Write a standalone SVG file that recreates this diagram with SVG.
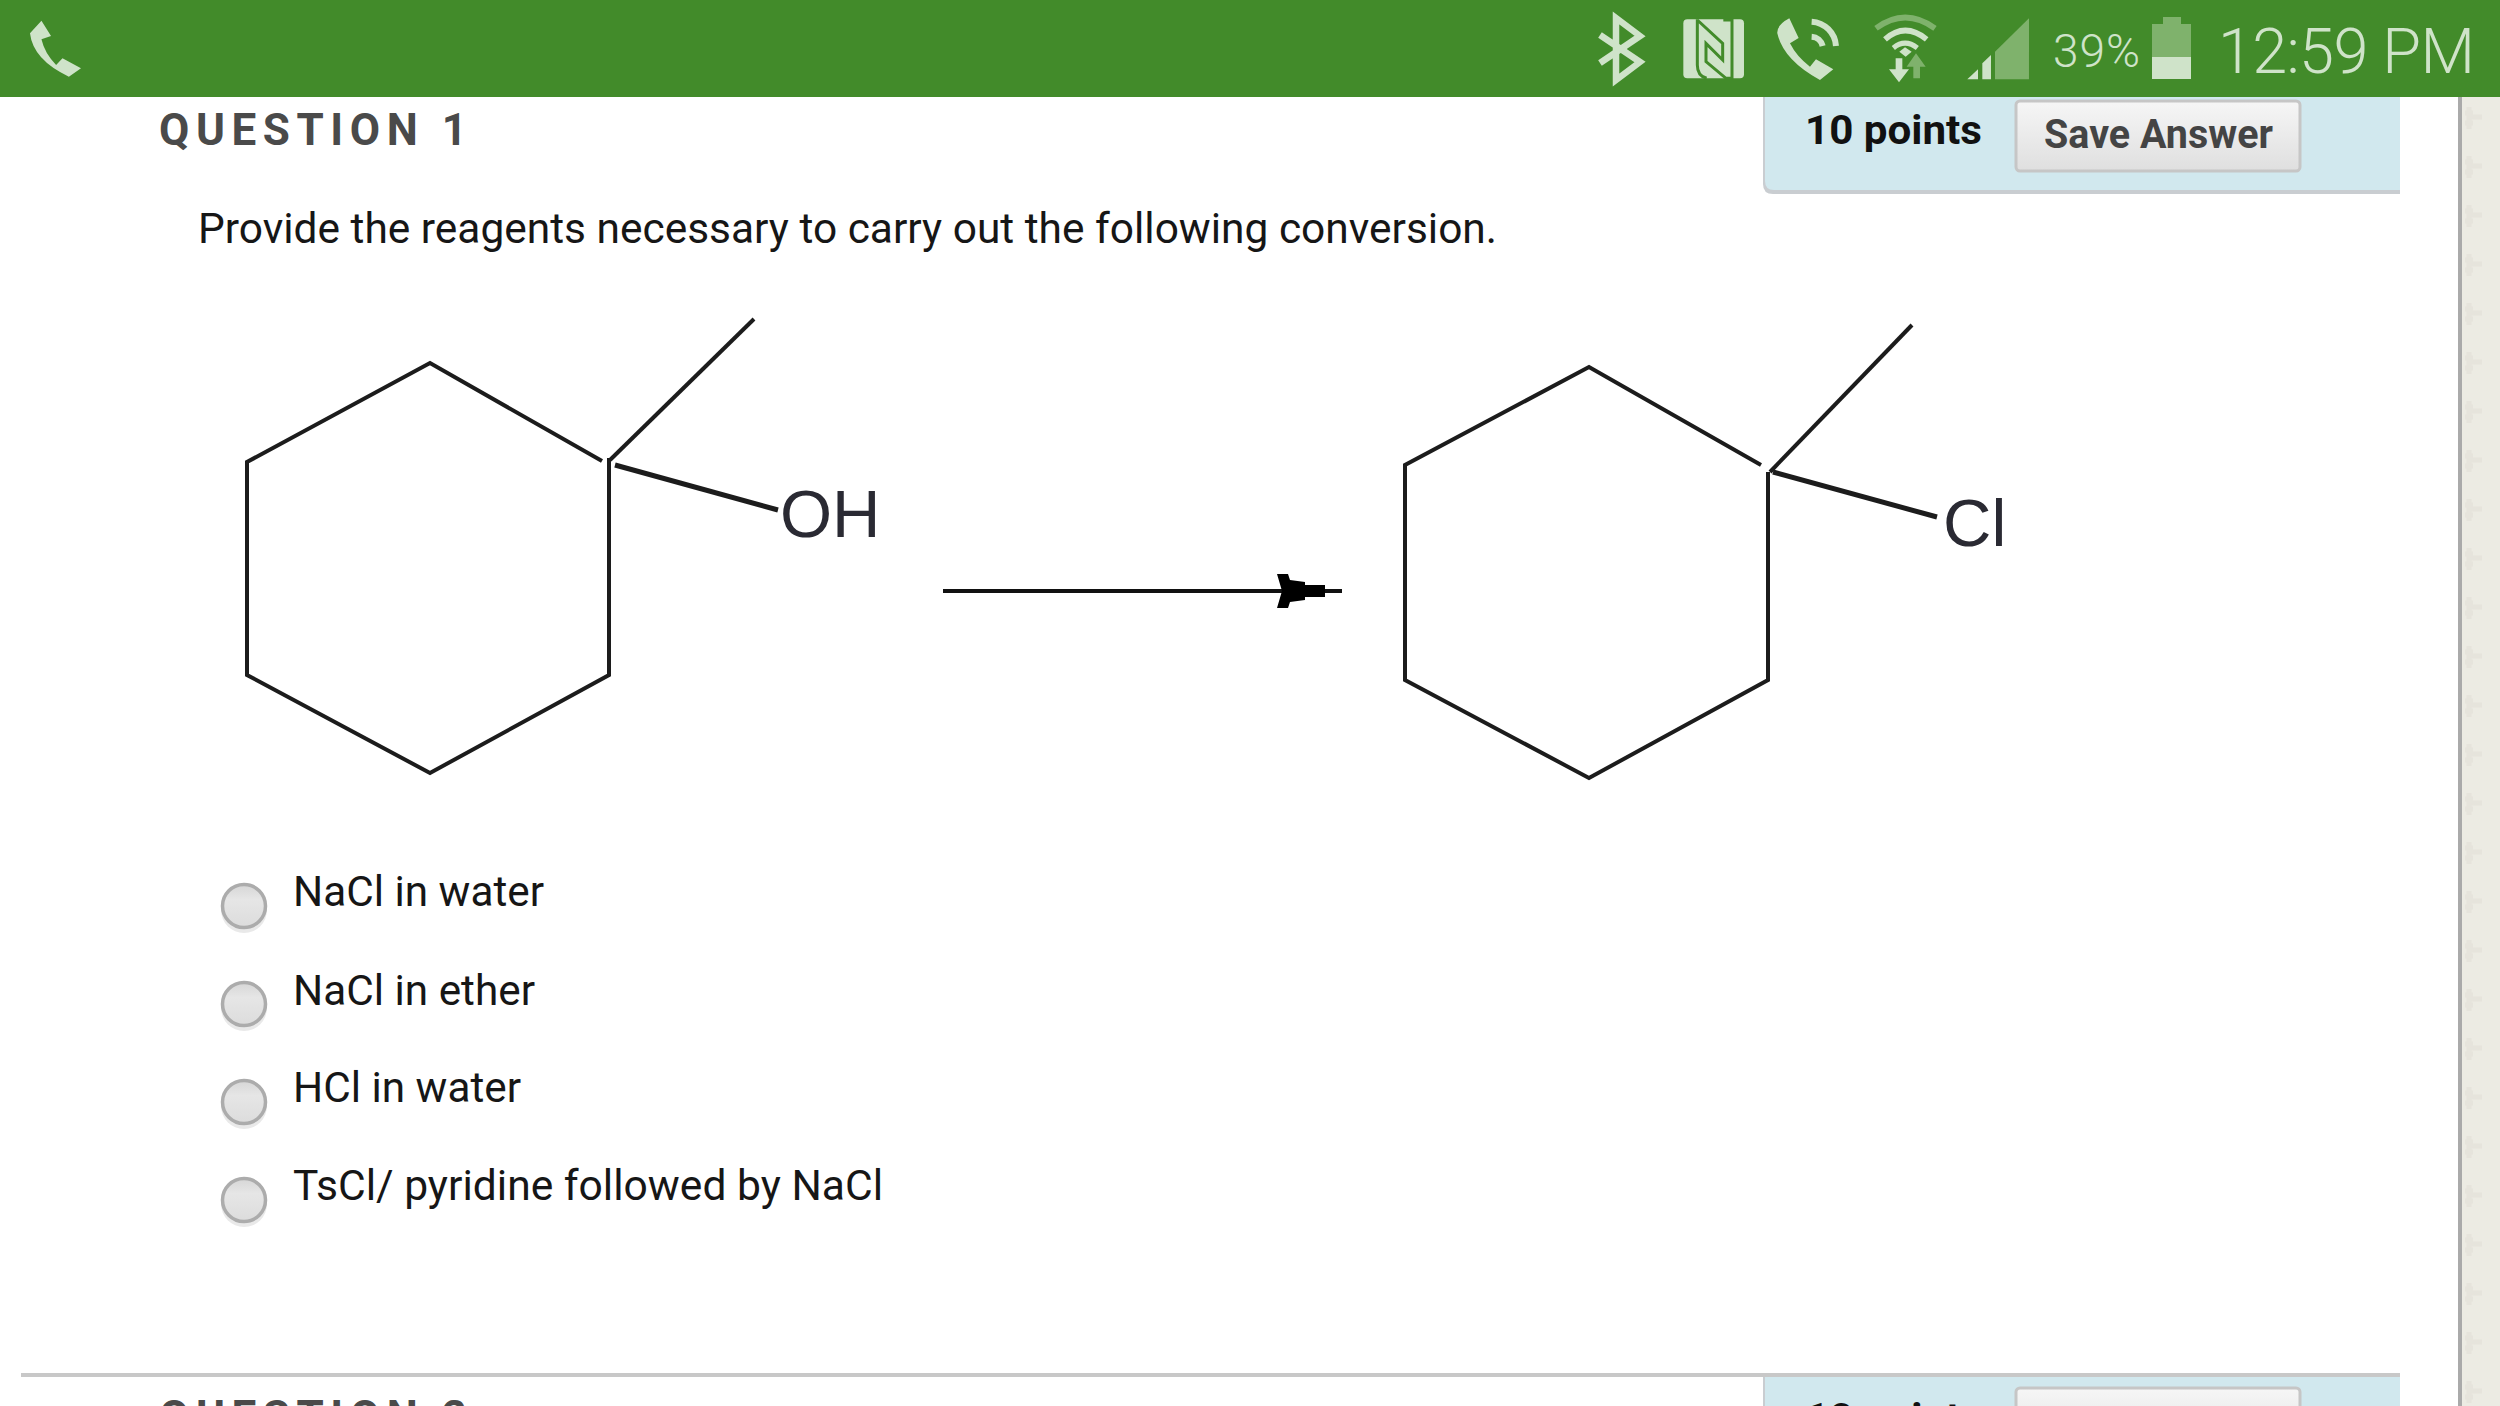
<svg xmlns="http://www.w3.org/2000/svg" width="2500" height="1406" viewBox="0 0 2500 1406">
<defs>
<linearGradient id="btn" x1="0" y1="0" x2="0" y2="1"><stop offset="0" stop-color="#f6f6f6"/><stop offset="1" stop-color="#dfdfdf"/></linearGradient>
<linearGradient id="rad" x1="0" y1="0" x2="0" y2="1"><stop offset="0" stop-color="#d6d6d6"/><stop offset=".35" stop-color="#e6e6e6"/><stop offset="1" stop-color="#dcdcdc"/></linearGradient>
<pattern id="flourish" x="2462" y="93" width="38" height="49" patternUnits="userSpaceOnUse">
<path d="M6 24H20M7 14V36M3 20H11M3 30H11" fill="none" stroke="#e6e4dc" stroke-width="5"/>
</pattern>
<marker id="head" markerUnits="userSpaceOnUse" markerWidth="60" markerHeight="40" refX="0" refY="20" orient="auto" overflow="visible">
<path d="M0 3H11L13 9L28 11V14H48V26H28V29L13 31L11 37H0L5 20Z" fill="#000"/>
</marker>
</defs>
<style>
text{font-family:Roboto,"Liberation Sans",sans-serif}
.body{font-size:42px;fill:#161616}
.q{font-size:44px;font-weight:700;fill:#4a4a4a}
.pts{font-size:40px;font-weight:700;fill:#111}
.save{font-size:40px;font-weight:700;fill:#444}
.st{font-weight:300;fill:#cfe3c9}
.bond{stroke:#1c1c1c;stroke-width:4;fill:none;stroke-linecap:butt;stroke-linejoin:miter}
.atom{font-family:"Liberation Sans",Arial,sans-serif;font-size:67px;fill:#2a2a33}
.li{fill:#cfe3c9}.dim{fill:#7fb26c}
.lis{stroke:#cfe3c9;fill:none}.dims{stroke:#7fb26c;fill:none}
.panel{fill:#d1e8ee}
.btnr{fill:url(#btn);stroke:#c6c6c6;stroke-width:3}
.radio{fill:url(#rad);stroke:#acacac;stroke-width:3.5}
.radsh{fill:#e9e9e9}
</style>
<rect width="2500" height="1406" fill="#fff"/>

<g id="sidebar">
<rect x="2462" y="97" width="38" height="1309" fill="#ecebe3"/>
<rect x="2462" y="97" width="38" height="1309" fill="url(#flourish)"/>
<rect x="2458" y="97" width="4" height="1309" fill="#aaa"/>
</g>

<g id="panel-1">
<path d="M1763 90V184Q1763 194 1773 194H2400V90Z" fill="#c9cdd1"/>
<path d="M1765 90V181Q1765 190 1774 190H2400V90Z" class="panel"/>
<text class="pts" x="1805" y="144" textLength="177" lengthAdjust="spacingAndGlyphs">10 points</text>
<rect class="btnr" x="2016" y="101" width="284" height="70" rx="4"/>
<text class="save" x="2044" y="148" textLength="229" lengthAdjust="spacingAndGlyphs">Save Answer</text>
</g>

<g id="status-bar">
<rect width="2500" height="97" fill="#428b2a"/>
<path class="li" transform="scale(.6378 .3333)" d="M65,62L47,100Q52,180 108,230L127,205L98,175L88,195Q70,160 65,118L80,108Z"/>
<path class="lis" stroke-width="6.5" d="M1600 35L1640 62L1616 80V18L1640 36L1600 63"/>
<g transform="translate(1670 10) scale(.3333)">
<rect class="li" x="40" y="28" width="182" height="177" rx="12"/>
<path d="M82 28V165Q82 198 110 205M82 30L158 100V150L108 100V155L168 205H186V30H160" fill="none" stroke="#428b2a" stroke-width="9"/>
</g>
<g transform="translate(1580 10) scale(.3333)">
<path class="li" d="M628,25Q590,45 592,70Q610,150 720,210L760,178L708,148L690,170Q650,140 630,100L656,84Z"/>
<path class="lis" stroke-width="18" d="M695,35A78 78 0 0 1 768,108M695,80A36 36 0 0 1 728,108"/>
</g>
<g transform="translate(1860 10) scale(.3333)">
<path class="dims" stroke-width="17" d="M48,55Q135,-10 225,55"/>
<path class="lis" stroke-width="17" d="M75,88Q135,35 200,88"/>
<path class="lis" stroke-width="15" d="M100,114Q135,85 172,114"/>
<path class="li" d="M118,125L135,112L155,125L137,140Z"/>
<path class="dim" d="M160,205V170H140L168,130L197,170H180V205Z"/>
<path class="li" d="M107,145H127V178H147L117,217L87,178H107Z"/>
<path class="li" d="M322,208L354,178V208Z"/>
<path class="li" d="M367,208V160L393,135V208Z"/>
<path class="dim" d="M405,208V125L507,25V208Z"/>
</g>
<text class="st" x="2053" y="67" font-size="46" textLength="87">39%</text>
<path class="dim" d="M2163 17H2181V24H2191V57H2152V24H2163Z"/>
<rect class="li" x="2152" y="57" width="39" height="22"/>
<text class="st" x="2218" y="73" font-size="63" textLength="257">12:59 PM</text>
</g>

<g id="question-header">
<text class="q" x="159" y="145" textLength="308">QUESTION 1</text>
</g>
<g id="prompt">
<text class="body" x="198" y="243" textLength="1299" lengthAdjust="spacingAndGlyphs">Provide the reagents necessary to carry out the following conversion.</text>
</g>

<g id="reactant">
<path class="bond" d="M602 461L430 363L247 462V675L430 773L609 675V458"/>
<path class="bond" d="M610 460L754 319"/>
<path class="bond" d="M615 465L778 510" style="stroke-width:5"/>
<text class="atom" x="780" y="537">OH</text>
</g>

<g id="product">
<path class="bond" d="M1761 465L1589 367L1405 465V680L1589 778L1768 680V472"/>
<path class="bond" d="M1770 472L1912 325"/>
<path class="bond" d="M1773 472L1937 517" style="stroke-width:5"/>
<text class="atom" x="1943" y="546">Cl</text>
</g>

<g id="connectors">
<path d="M943 591H1277L1342 591" fill="none" stroke="#111" stroke-width="4" marker-mid="url(#head)"/>
</g>

<g id="option-1">
<circle class="radsh" cx="244" cy="910" r="23"/><circle class="radio" cx="244" cy="906" r="21.5"/>
<text class="body" x="293" y="906" textLength="251" lengthAdjust="spacingAndGlyphs">NaCl in water</text>
</g>
<g id="option-2">
<circle class="radsh" cx="244" cy="1008" r="23"/><circle class="radio" cx="244" cy="1004" r="21.5"/>
<text class="body" x="293" y="1005" textLength="242" lengthAdjust="spacingAndGlyphs">NaCl in ether</text>
</g>
<g id="option-3">
<circle class="radsh" cx="244" cy="1106" r="23"/><circle class="radio" cx="244" cy="1102" r="21.5"/>
<text class="body" x="293" y="1102" textLength="228" lengthAdjust="spacingAndGlyphs">HCl in water</text>
</g>
<g id="option-4">
<circle class="radsh" cx="244" cy="1204" r="23"/><circle class="radio" cx="244" cy="1200" r="21.5"/>
<text class="body" x="293" y="1200" textLength="590" lengthAdjust="spacingAndGlyphs">TsCl/ pyridine followed by NaCl</text>
</g>

<g id="divider">
<rect x="21" y="1373" width="2379" height="4" fill="#c8c8c8"/>
</g>
<g id="panel-2">
<rect class="panel" x="1765" y="1377" width="635" height="29"/>
<rect x="1763" y="1377" width="2" height="29" fill="#c9cdd1"/>
<text class="pts" x="1805" y="1432" textLength="177" lengthAdjust="spacingAndGlyphs">10 points</text>
<rect class="btnr" x="2016" y="1388" width="284" height="70" rx="4"/>
</g>
<g id="question-header-2">
<text class="q" x="159" y="1432" textLength="308">QUESTION 2</text>
</g>
</svg>
